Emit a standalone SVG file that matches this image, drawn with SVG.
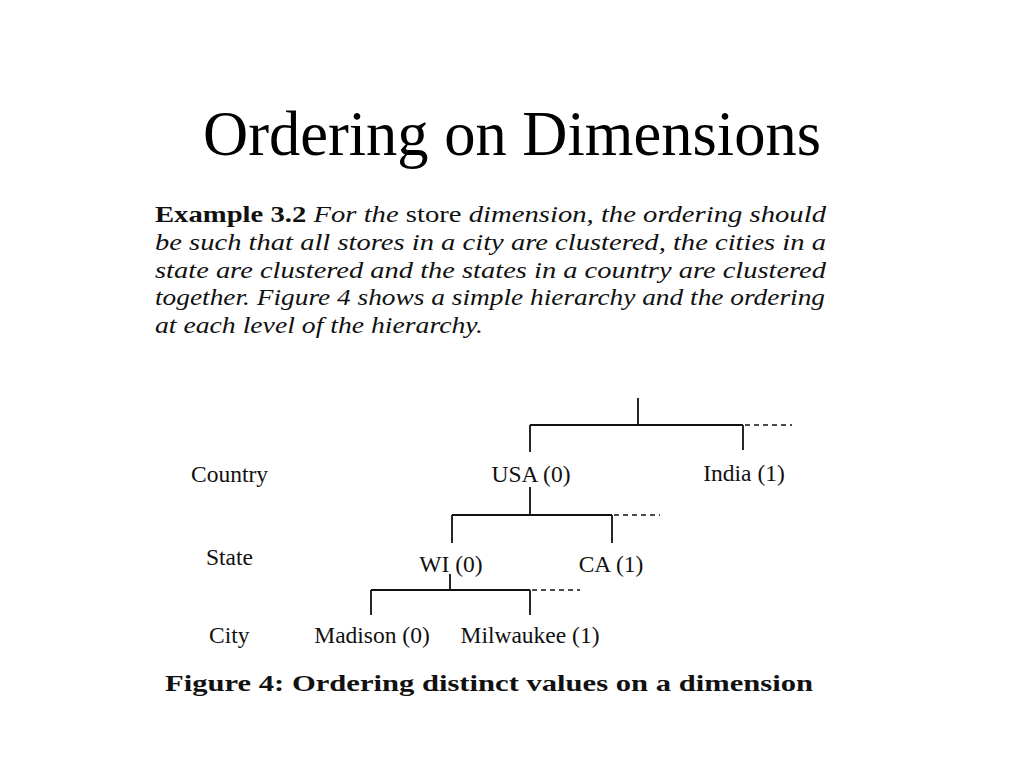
<svg xmlns="http://www.w3.org/2000/svg" width="1024" height="768" viewBox="0 0 1024 768">
<style>
.title{font-family:"Liberation Serif",serif;font-size:62.5px;fill:#000}
.para{font-family:"Liberation Serif",serif;font-size:23px;font-style:italic;fill:#111}
.up{font-style:normal}
.bold{font-weight:bold;font-style:normal}
.lbl{font-family:"Liberation Serif",serif;font-size:23.5px;fill:#111}
.cap{font-family:"Liberation Serif",serif;font-size:23px;font-weight:bold;fill:#111}
.ln{stroke:#111;stroke-width:1.8;fill:none}
.dash{stroke:#111;stroke-width:1.5;fill:none;stroke-dasharray:5 4}
</style>
<rect width="1024" height="768" fill="#fff"/>
<text class="title" x="512" y="155" text-anchor="middle">Ordering on Dimensions</text>
<g id="paragraph">
<text class="para" x="155" y="222" textLength="671" lengthAdjust="spacingAndGlyphs"><tspan class="bold">Example 3.2</tspan> For the <tspan class="up">store</tspan> dimension, the ordering should</text>
<text class="para" x="155" y="250" textLength="671" lengthAdjust="spacingAndGlyphs">be such that all stores in a city are clustered, the cities in a</text>
<text class="para" x="155" y="278" textLength="671" lengthAdjust="spacingAndGlyphs">state are clustered and the states in a country are clustered</text>
<text class="para" x="155" y="305" textLength="670" lengthAdjust="spacingAndGlyphs">together. Figure 4 shows a simple hierarchy and the ordering</text>
<text class="para" x="155" y="333" textLength="328" lengthAdjust="spacingAndGlyphs">at each level of the hierarchy.</text>
</g>
<g id="levels">
<text class="lbl" x="191" y="482">Country</text>
<text class="lbl" x="206" y="565">State</text>
<text class="lbl" x="209" y="643">City</text>
</g>
<g id="connectors">
<path class="ln" d="M638 398V425M530 425H743M530 425V452M743 425V450"/>
<path class="dash" d="M745 425H792"/>
<path class="ln" d="M530 487V515M452 515H612M452 515V543M612 515V543"/>
<path class="dash" d="M614 515H660"/>
<path class="ln" d="M450 574V590M371 590H530M371 590V615M530 590V615"/>
<path class="dash" d="M532 590H580"/>
</g>
<g id="node-usa"><text class="lbl" x="531" y="482" text-anchor="middle">USA (0)</text></g>
<g id="node-india"><text class="lbl" x="744" y="481" text-anchor="middle">India (1)</text></g>
<g id="node-wi"><text class="lbl" x="451" y="572" text-anchor="middle">WI (0)</text></g>
<g id="node-ca"><text class="lbl" x="611" y="572" text-anchor="middle">CA (1)</text></g>
<g id="node-madison"><text class="lbl" x="372" y="643" text-anchor="middle">Madison (0)</text></g>
<g id="node-milwaukee"><text class="lbl" x="530" y="643" text-anchor="middle">Milwaukee (1)</text></g>
<text class="cap" x="165" y="691" textLength="648" lengthAdjust="spacingAndGlyphs">Figure 4: Ordering distinct values on a dimension</text>
</svg>
